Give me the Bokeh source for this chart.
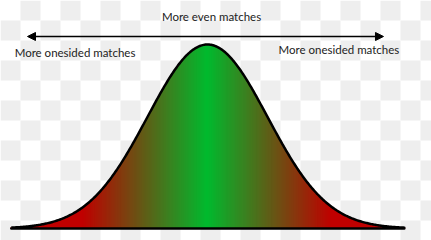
import numpy as np
from bokeh.plotting import figure
from bokeh.models import Range1d, Label, Arrow, NormalHead
from bokeh.embed import file_html
from bokeh.resources import INLINE

# ---- data (standard normal shape, in sigma units) ----
z_min, z_max = -3.27, 3.28
n_cols = 420
title_text = "More even matches"
side_text = "More onesided matches"
edge_rgb = (192, 0, 0)      # red at the tails
center_rgb = (0, 186, 46)   # green at the mean
red_at = 2.08               # |z| from which the fill is fully red

z = np.linspace(z_min, z_max, n_cols)
dens = np.exp(-z ** 2 / 2.0)

W, H = 431, 240
X0, X1 = -3.45, 3.7333
Y0, Y1 = -0.06522, 1.2391
p = figure(width=W, height=H, output_backend="svg", toolbar_location=None,
           x_range=Range1d(X0, X1), y_range=Range1d(Y0, Y1), min_border=0)
p.axis.visible = False
p.grid.visible = False
p.outline_line_color = None
p.background_fill_color = "white"
p.border_fill_color = "white"

# checkerboard background (transparent-image look), 20 px squares
sx = (X1 - X0) / W
sy = (Y1 - Y0) / H
lefts, rights, tops, bottoms = [], [], [], []
for r in range(H // 20 + 1):
    for c in range(W // 20 + 1):
        if (r + c) % 2 == 1:
            lefts.append(X0 + c * 20 * sx)
            rights.append(X0 + (c + 1) * 20 * sx)
            tops.append(Y1 - r * 20 * sy)
            bottoms.append(Y1 - (r + 1) * 20 * sy)
p.quad(left=lefts, right=rights, top=tops, bottom=bottoms,
       fill_color="#eeeeee", line_color=None)

# gradient fill as overlapping vertical bars
cols_ = []
for zi in z:
    t = min(abs(zi) / red_at, 1.0)
    r = int(round(center_rgb[0] + (edge_rgb[0] - center_rgb[0]) * t))
    g = int(round(center_rgb[1] + (edge_rgb[1] - center_rgb[1]) * t))
    b = int(round(center_rgb[2] + (edge_rgb[2] - center_rgb[2]) * t))
    cols_.append("#%02x%02x%02x" % (r, g, b))
p.segment(x0=z, y0=np.zeros_like(z), x1=z, y1=dens, line_color=cols_,
          line_width=2, line_cap="butt")

# outline
ox = list(z) + [z_max, z_min, z_min]
oy = list(dens) + [0, 0, dens[0]]
p.line(ox, oy, line_color="black", line_width=2.5, line_join="round")

# double arrow
p.add_layout(Arrow(x_start=-3.0, y_start=1.0435, x_end=2.933, y_end=1.0435,
                   line_color="black", line_width=1.5,
                   start=NormalHead(size=8, fill_color="black", line_color="black"),
                   end=NormalHead(size=8, fill_color="black", line_color="black")))

font = "Lato"
fs = "11.5px"
p.add_layout(Label(x=0.067, y=1.152, text=title_text, text_align="center",
                   text_baseline="middle", text_font=font, text_font_size=fs,
                   text_color="#222222"))
p.add_layout(Label(x=-2.208, y=0.9565, text=side_text, text_align="center",
                   text_baseline="middle", text_font=font, text_font_size=fs,
                   text_color="#222222"))
p.add_layout(Label(x=2.19, y=0.973, text=side_text, text_align="center",
                   text_baseline="middle", text_font=font, text_font_size=fs,
                   text_color="#222222"))

open("out.html", "w").write(file_html(p, INLINE))
